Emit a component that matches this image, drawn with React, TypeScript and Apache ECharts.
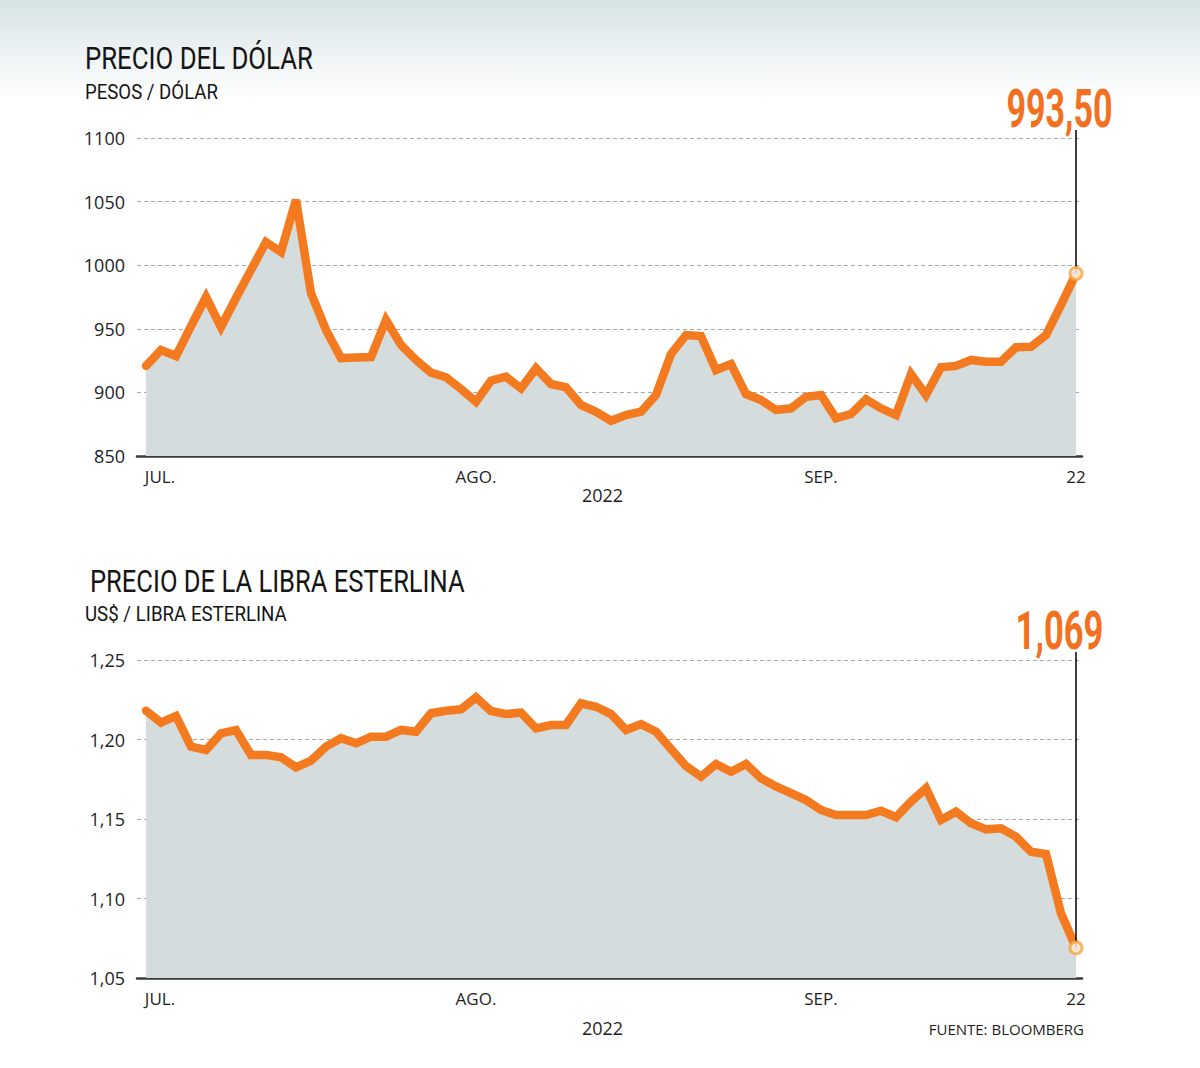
import React, { useEffect, useRef } from "react";
import * as echarts from "echarts";

// Daily closes, 1 Jul – 22 Sep 2022
const dollarValues = [
  920.8, 933.3, 928.6, 952.0, 975.0, 951.4, 974.2, 996.2, 1018.2, 1010.4,
  1051.3, 978.1, 949.1, 927.0, 927.4, 927.8, 956.9, 937.3, 925.5, 915.5,
  911.9, 902.7, 892.7, 909.2, 912.3, 903.2, 918.9, 906.6, 904.0, 890.1,
  884.8, 877.7, 882.2, 884.8, 897.9, 930.2, 945.1, 944.3, 917.6, 922.3,
  898.7, 894.0, 886.2, 887.5, 896.6, 898.0, 879.6, 883.0, 894.6, 887.5,
  882.2, 914.5, 898.0, 919.7, 920.8, 925.5, 924.1, 924.1, 935.5, 935.9,
  945.1, 968.7, 993.5,
];

const poundValues = [
  1.2181, 1.2106, 1.2148, 1.1955, 1.1934, 1.2039, 1.206, 1.1903, 1.1903, 1.1888,
  1.1825, 1.1867, 1.1955, 1.2008, 1.1976, 1.2018, 1.2018, 1.206, 1.2049, 1.2165,
  1.2181, 1.219, 1.2265, 1.2179, 1.216, 1.2169, 1.207, 1.2091, 1.2091, 1.2228,
  1.2206, 1.216, 1.206, 1.2097, 1.2049, 1.194, 1.1833, 1.1766, 1.1846, 1.1797,
  1.1846, 1.1756, 1.1705, 1.1662, 1.1619, 1.1557, 1.1525, 1.1525, 1.1525, 1.1552,
  1.1511, 1.1609, 1.1693, 1.1494, 1.1546, 1.1473, 1.1435, 1.1442, 1.1389, 1.1294,
  1.128, 1.0907, 1.069,
];

// Month markers along the day index
const monthTickIndex = [0, 22, 45, 62];
const monthTickLabels = ["JUL.", "AGO.", "SEP.", "22"];
const yearLabel = "2022";

// [min, max, step]
const dollarScale = [850, 1100, 50];
const poundScale = [1.05, 1.25, 0.05];

const titles = ["PRECIO DEL DÓLAR", "PRECIO DE LA LIBRA ESTERLINA"];
const subtitles = ["PESOS / DÓLAR", "US$ / LIBRA ESTERLINA"];
const sourceNote = "FUENTE: BLOOMBERG";

const ORANGE = "#f47a20";
const LABEL_ORANGE = "#f37021";
const AREA = "#d4dcde";
const TEXT = "#1e1e1e";
const SANS = "Open Sans";
const HEAD = "Roboto";

const comma = (v: number, d: number) => v.toFixed(d).replace(".", ",");

// Horizontal squeeze that makes a string span a given width (condensed look)
let measureCtx: CanvasRenderingContext2D | null = null;
function squeeze(text: string, font: string, width: number) {
  if (!measureCtx) measureCtx = document.createElement("canvas").getContext("2d");
  if (!measureCtx) return 1;
  measureCtx.font = font;
  const w = measureCtx.measureText(text).width;
  return w > 0 ? width / w : 1;
}

function headText(text: string, x: number, y: number, size: number, width: number, weight = "normal", fill = "#151515", align = "left") {
  const font = `${weight} ${size}px "${HEAD}"`;
  return {
    type: "text",
    x,
    y,
    scaleX: squeeze(text, font, width),
    style: { text, font, fill, textAlign: align, textVerticalAlign: "middle" },
    z: 4,
  };
}

function xAxisFor(gridIndex: number, nameGap: number) {
  const n = dollarValues.length;
  return {
    type: "value",
    gridIndex,
    min: -0.6,
    max: n - 1 + 0.4,
    splitLine: { show: false },
    axisTick: { show: false },
    axisLine: { show: true, onZero: false, lineStyle: { color: "#3a3a3a", width: 2.5 } },
    axisLabel: {
      customValues: monthTickIndex,
      margin: 12,
      formatter: (v: number) => {
        const k = monthTickIndex.indexOf(Math.round(v));
        if (k < 0) return "";
        return k === 0 ? `{first|${monthTickLabels[k]}}` : `{m|${monthTickLabels[k]}}`;
      },
      rich: {
        first: { fontFamily: SANS, fontSize: 17, color: TEXT, padding: [0, 0, 0, 28] },
        m: { fontFamily: SANS, fontSize: 17, color: TEXT },
      },
    },
    name: yearLabel,
    nameLocation: "middle",
    nameGap,
    nameTextStyle: { fontFamily: SANS, fontSize: 18, color: TEXT, padding: [0, 14, 0, 0] },
  };
}

function yAxisFor(gridIndex: number, scale: number[], digits: number) {
  return {
    type: "value",
    gridIndex,
    min: scale[0],
    max: scale[1],
    interval: scale[2],
    axisLine: { show: false },
    axisTick: { show: false },
    splitLine: { lineStyle: { color: "#a9a9a9", width: 1, type: [4, 3] } },
    axisLabel: {
      margin: 12,
      fontFamily: SANS,
      fontSize: 18,
      color: TEXT,
      formatter: (v: number) => (digits ? comma(v, digits) : String(Math.round(v))),
    },
  };
}

function seriesFor(idx: number, values: number[]) {
  const pts = values.map((v, i) => [i, v]);
  return [
    {
      type: "line",
      xAxisIndex: idx,
      yAxisIndex: idx,
      data: pts,
      symbol: "none",
      lineStyle: { color: ORANGE, width: 8.5, join: "miter", miterLimit: 3, cap: "round" },
      areaStyle: { color: AREA, opacity: 1, origin: "start" },
      z: 2,
    },
    {
      type: "scatter",
      xAxisIndex: idx,
      yAxisIndex: idx,
      data: [pts[pts.length - 1]],
      symbol: "circle",
      symbolSize: 12,
      itemStyle: { color: "#ffffff", borderColor: "#f8a23a", borderWidth: 3 },
      z: 6,
    },
  ];
}

export default function App() {
  const ref = useRef<HTMLDivElement>(null);

  useEffect(() => {
    if (!ref.current) return;
    const chart = echarts.init(ref.current, null, { renderer: "svg" });
    chart.setOption({
      animation: false,
      backgroundColor: "#ffffff",
      grid: [
        { left: 137, top: 138, width: 945, height: 318 },
        { left: 137, top: 660, width: 945, height: 318 },
      ],
      xAxis: [xAxisFor(0, 29), xAxisFor(1, 41)],
      yAxis: [yAxisFor(0, dollarScale, 0), yAxisFor(1, poundScale, 2)],
      series: [...seriesFor(0, dollarValues), ...seriesFor(1, poundValues)],
    });

    const graphics: any[] = [
      {
        type: "rect",
        shape: { x: 0, y: 0, width: 1200, height: 100 },
        style: {
          fill: new echarts.graphic.LinearGradient(0, 0, 0, 1, [
            { offset: 0, color: "#d6e3e4" },
            { offset: 0.55, color: "#eef3f4" },
            { offset: 1, color: "#ffffff" },
          ]),
        },
        z: -10,
        silent: true,
      },
      headText(titles[0], 85, 59, 31, 228),
      headText(subtitles[0], 85, 92, 21, 133),
      headText(titles[1], 90, 582, 31, 375),
      headText(subtitles[1], 85, 614, 21, 202),
      {
        type: "text",
        x: 1084,
        y: 1029,
        style: { text: sourceNote, font: `15px "${SANS}"`, fill: TEXT, textAlign: "right", textVerticalAlign: "middle" },
      },
    ];

    // Callouts anchored to the last point of each series
    const callouts = [
      { grid: 0, values: dollarValues, scale: dollarScale, text: (v: number) => comma(v, 2), width: 106 },
      { grid: 1, values: poundValues, scale: poundScale, text: (v: number) => comma(v, 3), width: 88 },
    ];
    callouts.forEach((c) => {
      const last = c.values.length - 1;
      const [px, py] = chart.convertToPixel({ gridIndex: c.grid }, [last, c.values[last]]) as number[];
      const topY = (chart.convertToPixel({ gridIndex: c.grid }, [last, c.scale[1]]) as number[])[1];
      graphics.push({
        type: "line",
        shape: { x1: px, y1: topY - 8, x2: px, y2: py },
        style: { stroke: "#000", lineWidth: 1.5 },
        z: 4,
      });
      graphics.push(headText(c.text(c.values[last]), px - 16.5, topY - 29, 53, c.width, "bold", LABEL_ORANGE, "center"));
    });
    chart.setOption({ graphic: graphics });

    return () => chart.dispose();
  }, []);

  return (
    <div
      ref={ref}
      style={{ position: "absolute", left: 0, top: 0, width: 1200, height: 1068, background: "#fff" }}
    />
  );
}
